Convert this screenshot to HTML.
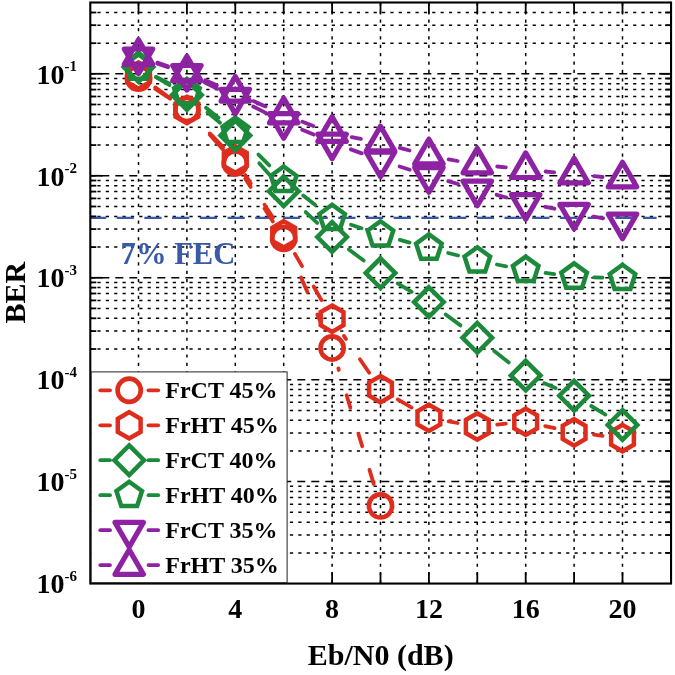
<!DOCTYPE html>
<html><head><meta charset="utf-8"><title>BER vs Eb/N0</title>
<style>html,body{margin:0;padding:0;background:#fff}svg{display:block}text{font-family:"Liberation Serif","Times New Roman",serif;font-weight:bold}</style></head><body>
<svg width="675" height="675" viewBox="0 0 675 675">
<rect width="675" height="675" fill="#fff"/>
<g stroke="#000" fill="none" stroke-width="1.5">
<line x1="138.5" y1="2.5" x2="138.5" y2="583.55" stroke-dasharray="3.2 5.17" stroke-dashoffset="8.0"/>
<line x1="186.9" y1="2.5" x2="186.9" y2="583.55" stroke-dasharray="3.2 5.17" stroke-dashoffset="8.0"/>
<line x1="235.3" y1="2.5" x2="235.3" y2="583.55" stroke-dasharray="3.2 5.17" stroke-dashoffset="8.0"/>
<line x1="283.7" y1="2.5" x2="283.7" y2="583.55" stroke-dasharray="3.2 5.17" stroke-dashoffset="8.0"/>
<line x1="332.1" y1="2.5" x2="332.1" y2="583.55" stroke-dasharray="3.2 5.17" stroke-dashoffset="8.0"/>
<line x1="380.5" y1="2.5" x2="380.5" y2="583.55" stroke-dasharray="3.2 5.17" stroke-dashoffset="8.0"/>
<line x1="428.9" y1="2.5" x2="428.9" y2="583.55" stroke-dasharray="3.2 5.17" stroke-dashoffset="8.0"/>
<line x1="477.3" y1="2.5" x2="477.3" y2="583.55" stroke-dasharray="3.2 5.17" stroke-dashoffset="8.0"/>
<line x1="525.7" y1="2.5" x2="525.7" y2="583.55" stroke-dasharray="3.2 5.17" stroke-dashoffset="8.0"/>
<line x1="574.1" y1="2.5" x2="574.1" y2="583.55" stroke-dasharray="3.2 5.17" stroke-dashoffset="8.0"/>
<line x1="622.5" y1="2.5" x2="622.5" y2="583.55" stroke-dasharray="3.2 5.17" stroke-dashoffset="8.0"/>
<line x1="90.3" y1="552.9" x2="671.05" y2="552.9" stroke-dasharray="3.2 5.17" stroke-dashoffset="1.25"/>
<line x1="90.3" y1="535.0" x2="671.05" y2="535.0" stroke-dasharray="3.2 5.17" stroke-dashoffset="1.25"/>
<line x1="90.3" y1="522.2" x2="671.05" y2="522.2" stroke-dasharray="3.2 5.17" stroke-dashoffset="1.25"/>
<line x1="90.3" y1="512.3" x2="671.05" y2="512.3" stroke-dasharray="3.2 5.17" stroke-dashoffset="1.25"/>
<line x1="90.3" y1="504.3" x2="671.05" y2="504.3" stroke-dasharray="3.2 5.17" stroke-dashoffset="1.25"/>
<line x1="90.3" y1="497.4" x2="671.05" y2="497.4" stroke-dasharray="3.2 5.17" stroke-dashoffset="1.25"/>
<line x1="90.3" y1="491.5" x2="671.05" y2="491.5" stroke-dasharray="3.2 5.17" stroke-dashoffset="1.25"/>
<line x1="90.3" y1="486.3" x2="671.05" y2="486.3" stroke-dasharray="3.2 5.17" stroke-dashoffset="1.25"/>
<line x1="90.3" y1="481.6" x2="671.05" y2="481.6" stroke-dasharray="8 6" stroke-dashoffset="3"/>
<line x1="90.3" y1="451.0" x2="671.05" y2="451.0" stroke-dasharray="3.2 5.17" stroke-dashoffset="1.25"/>
<line x1="90.3" y1="433.0" x2="671.05" y2="433.0" stroke-dasharray="3.2 5.17" stroke-dashoffset="1.25"/>
<line x1="90.3" y1="420.3" x2="671.05" y2="420.3" stroke-dasharray="3.2 5.17" stroke-dashoffset="1.25"/>
<line x1="90.3" y1="410.4" x2="671.05" y2="410.4" stroke-dasharray="3.2 5.17" stroke-dashoffset="1.25"/>
<line x1="90.3" y1="402.3" x2="671.05" y2="402.3" stroke-dasharray="3.2 5.17" stroke-dashoffset="1.25"/>
<line x1="90.3" y1="395.5" x2="671.05" y2="395.5" stroke-dasharray="3.2 5.17" stroke-dashoffset="1.25"/>
<line x1="90.3" y1="389.6" x2="671.05" y2="389.6" stroke-dasharray="3.2 5.17" stroke-dashoffset="1.25"/>
<line x1="90.3" y1="384.4" x2="671.05" y2="384.4" stroke-dasharray="3.2 5.17" stroke-dashoffset="1.25"/>
<line x1="90.3" y1="379.7" x2="671.05" y2="379.7" stroke-dasharray="8 6" stroke-dashoffset="3"/>
<line x1="90.3" y1="349.0" x2="671.05" y2="349.0" stroke-dasharray="3.2 5.17" stroke-dashoffset="1.25"/>
<line x1="90.3" y1="331.1" x2="671.05" y2="331.1" stroke-dasharray="3.2 5.17" stroke-dashoffset="1.25"/>
<line x1="90.3" y1="318.3" x2="671.05" y2="318.3" stroke-dasharray="3.2 5.17" stroke-dashoffset="1.25"/>
<line x1="90.3" y1="308.4" x2="671.05" y2="308.4" stroke-dasharray="3.2 5.17" stroke-dashoffset="1.25"/>
<line x1="90.3" y1="300.4" x2="671.05" y2="300.4" stroke-dasharray="3.2 5.17" stroke-dashoffset="1.25"/>
<line x1="90.3" y1="293.5" x2="671.05" y2="293.5" stroke-dasharray="3.2 5.17" stroke-dashoffset="1.25"/>
<line x1="90.3" y1="287.6" x2="671.05" y2="287.6" stroke-dasharray="3.2 5.17" stroke-dashoffset="1.25"/>
<line x1="90.3" y1="282.4" x2="671.05" y2="282.4" stroke-dasharray="3.2 5.17" stroke-dashoffset="1.25"/>
<line x1="90.3" y1="277.8" x2="671.05" y2="277.8" stroke-dasharray="8 6" stroke-dashoffset="3"/>
<line x1="90.3" y1="247.1" x2="671.05" y2="247.1" stroke-dasharray="3.2 5.17" stroke-dashoffset="1.25"/>
<line x1="90.3" y1="229.1" x2="671.05" y2="229.1" stroke-dasharray="3.2 5.17" stroke-dashoffset="1.25"/>
<line x1="90.3" y1="216.4" x2="671.05" y2="216.4" stroke-dasharray="3.2 5.17" stroke-dashoffset="1.25"/>
<line x1="90.3" y1="206.5" x2="671.05" y2="206.5" stroke-dasharray="3.2 5.17" stroke-dashoffset="1.25"/>
<line x1="90.3" y1="198.4" x2="671.05" y2="198.4" stroke-dasharray="3.2 5.17" stroke-dashoffset="1.25"/>
<line x1="90.3" y1="191.6" x2="671.05" y2="191.6" stroke-dasharray="3.2 5.17" stroke-dashoffset="1.25"/>
<line x1="90.3" y1="185.7" x2="671.05" y2="185.7" stroke-dasharray="3.2 5.17" stroke-dashoffset="1.25"/>
<line x1="90.3" y1="180.5" x2="671.05" y2="180.5" stroke-dasharray="3.2 5.17" stroke-dashoffset="1.25"/>
<line x1="90.3" y1="175.8" x2="671.05" y2="175.8" stroke-dasharray="8 6" stroke-dashoffset="3"/>
<line x1="90.3" y1="145.1" x2="671.05" y2="145.1" stroke-dasharray="3.2 5.17" stroke-dashoffset="1.25"/>
<line x1="90.3" y1="127.2" x2="671.05" y2="127.2" stroke-dasharray="3.2 5.17" stroke-dashoffset="1.25"/>
<line x1="90.3" y1="114.4" x2="671.05" y2="114.4" stroke-dasharray="3.2 5.17" stroke-dashoffset="1.25"/>
<line x1="90.3" y1="104.5" x2="671.05" y2="104.5" stroke-dasharray="3.2 5.17" stroke-dashoffset="1.25"/>
<line x1="90.3" y1="96.5" x2="671.05" y2="96.5" stroke-dasharray="3.2 5.17" stroke-dashoffset="1.25"/>
<line x1="90.3" y1="89.6" x2="671.05" y2="89.6" stroke-dasharray="3.2 5.17" stroke-dashoffset="1.25"/>
<line x1="90.3" y1="83.7" x2="671.05" y2="83.7" stroke-dasharray="3.2 5.17" stroke-dashoffset="1.25"/>
<line x1="90.3" y1="78.5" x2="671.05" y2="78.5" stroke-dasharray="3.2 5.17" stroke-dashoffset="1.25"/>
<line x1="90.3" y1="73.8" x2="671.05" y2="73.8" stroke-dasharray="8 6" stroke-dashoffset="3"/>
<line x1="90.3" y1="43.2" x2="671.05" y2="43.2" stroke-dasharray="3.2 5.17" stroke-dashoffset="1.25"/>
<line x1="90.3" y1="25.2" x2="671.05" y2="25.2" stroke-dasharray="3.2 5.17" stroke-dashoffset="1.25"/>
<line x1="90.3" y1="12.5" x2="671.05" y2="12.5" stroke-dasharray="3.2 5.17" stroke-dashoffset="1.25"/>
</g>
<line x1="90.3" y1="217.9" x2="656.6" y2="217.9" stroke="#3a5aa9" stroke-width="2.4" stroke-dasharray="17.2 10.5" stroke-dashoffset="1.3"/>
<text x="120.6" y="263.7" font-size="30.6" fill="#3a5aa9">7% FEC</text>
<g stroke="#000" stroke-width="1.8">
<line x1="138.5" y1="2.5" x2="138.5" y2="13.5"/>
<line x1="138.5" y1="583.55" x2="138.5" y2="572.55"/>
<line x1="186.9" y1="2.5" x2="186.9" y2="13.5"/>
<line x1="186.9" y1="583.55" x2="186.9" y2="572.55"/>
<line x1="235.3" y1="2.5" x2="235.3" y2="13.5"/>
<line x1="235.3" y1="583.55" x2="235.3" y2="572.55"/>
<line x1="283.7" y1="2.5" x2="283.7" y2="13.5"/>
<line x1="283.7" y1="583.55" x2="283.7" y2="572.55"/>
<line x1="332.1" y1="2.5" x2="332.1" y2="13.5"/>
<line x1="332.1" y1="583.55" x2="332.1" y2="572.55"/>
<line x1="380.5" y1="2.5" x2="380.5" y2="13.5"/>
<line x1="380.5" y1="583.55" x2="380.5" y2="572.55"/>
<line x1="428.9" y1="2.5" x2="428.9" y2="13.5"/>
<line x1="428.9" y1="583.55" x2="428.9" y2="572.55"/>
<line x1="477.3" y1="2.5" x2="477.3" y2="13.5"/>
<line x1="477.3" y1="583.55" x2="477.3" y2="572.55"/>
<line x1="525.7" y1="2.5" x2="525.7" y2="13.5"/>
<line x1="525.7" y1="583.55" x2="525.7" y2="572.55"/>
<line x1="574.1" y1="2.5" x2="574.1" y2="13.5"/>
<line x1="574.1" y1="583.55" x2="574.1" y2="572.55"/>
<line x1="622.5" y1="2.5" x2="622.5" y2="13.5"/>
<line x1="622.5" y1="583.55" x2="622.5" y2="572.55"/>
<line x1="90.3" y1="552.9" x2="96.3" y2="552.9"/>
<line x1="671.05" y1="552.9" x2="665.05" y2="552.9"/>
<line x1="90.3" y1="535.0" x2="96.3" y2="535.0"/>
<line x1="671.05" y1="535.0" x2="665.05" y2="535.0"/>
<line x1="90.3" y1="522.2" x2="96.3" y2="522.2"/>
<line x1="671.05" y1="522.2" x2="665.05" y2="522.2"/>
<line x1="90.3" y1="512.3" x2="96.3" y2="512.3"/>
<line x1="671.05" y1="512.3" x2="665.05" y2="512.3"/>
<line x1="90.3" y1="504.3" x2="96.3" y2="504.3"/>
<line x1="671.05" y1="504.3" x2="665.05" y2="504.3"/>
<line x1="90.3" y1="497.4" x2="96.3" y2="497.4"/>
<line x1="671.05" y1="497.4" x2="665.05" y2="497.4"/>
<line x1="90.3" y1="491.5" x2="96.3" y2="491.5"/>
<line x1="671.05" y1="491.5" x2="665.05" y2="491.5"/>
<line x1="90.3" y1="486.3" x2="96.3" y2="486.3"/>
<line x1="671.05" y1="486.3" x2="665.05" y2="486.3"/>
<line x1="90.3" y1="481.6" x2="102.3" y2="481.6"/>
<line x1="671.05" y1="481.6" x2="659.05" y2="481.6"/>
<line x1="90.3" y1="451.0" x2="96.3" y2="451.0"/>
<line x1="671.05" y1="451.0" x2="665.05" y2="451.0"/>
<line x1="90.3" y1="433.0" x2="96.3" y2="433.0"/>
<line x1="671.05" y1="433.0" x2="665.05" y2="433.0"/>
<line x1="90.3" y1="420.3" x2="96.3" y2="420.3"/>
<line x1="671.05" y1="420.3" x2="665.05" y2="420.3"/>
<line x1="90.3" y1="410.4" x2="96.3" y2="410.4"/>
<line x1="671.05" y1="410.4" x2="665.05" y2="410.4"/>
<line x1="90.3" y1="402.3" x2="96.3" y2="402.3"/>
<line x1="671.05" y1="402.3" x2="665.05" y2="402.3"/>
<line x1="90.3" y1="395.5" x2="96.3" y2="395.5"/>
<line x1="671.05" y1="395.5" x2="665.05" y2="395.5"/>
<line x1="90.3" y1="389.6" x2="96.3" y2="389.6"/>
<line x1="671.05" y1="389.6" x2="665.05" y2="389.6"/>
<line x1="90.3" y1="384.4" x2="96.3" y2="384.4"/>
<line x1="671.05" y1="384.4" x2="665.05" y2="384.4"/>
<line x1="90.3" y1="379.7" x2="102.3" y2="379.7"/>
<line x1="671.05" y1="379.7" x2="659.05" y2="379.7"/>
<line x1="90.3" y1="349.0" x2="96.3" y2="349.0"/>
<line x1="671.05" y1="349.0" x2="665.05" y2="349.0"/>
<line x1="90.3" y1="331.1" x2="96.3" y2="331.1"/>
<line x1="671.05" y1="331.1" x2="665.05" y2="331.1"/>
<line x1="90.3" y1="318.3" x2="96.3" y2="318.3"/>
<line x1="671.05" y1="318.3" x2="665.05" y2="318.3"/>
<line x1="90.3" y1="308.4" x2="96.3" y2="308.4"/>
<line x1="671.05" y1="308.4" x2="665.05" y2="308.4"/>
<line x1="90.3" y1="300.4" x2="96.3" y2="300.4"/>
<line x1="671.05" y1="300.4" x2="665.05" y2="300.4"/>
<line x1="90.3" y1="293.5" x2="96.3" y2="293.5"/>
<line x1="671.05" y1="293.5" x2="665.05" y2="293.5"/>
<line x1="90.3" y1="287.6" x2="96.3" y2="287.6"/>
<line x1="671.05" y1="287.6" x2="665.05" y2="287.6"/>
<line x1="90.3" y1="282.4" x2="96.3" y2="282.4"/>
<line x1="671.05" y1="282.4" x2="665.05" y2="282.4"/>
<line x1="90.3" y1="277.8" x2="102.3" y2="277.8"/>
<line x1="671.05" y1="277.8" x2="659.05" y2="277.8"/>
<line x1="90.3" y1="247.1" x2="96.3" y2="247.1"/>
<line x1="671.05" y1="247.1" x2="665.05" y2="247.1"/>
<line x1="90.3" y1="229.1" x2="96.3" y2="229.1"/>
<line x1="671.05" y1="229.1" x2="665.05" y2="229.1"/>
<line x1="90.3" y1="216.4" x2="96.3" y2="216.4"/>
<line x1="671.05" y1="216.4" x2="665.05" y2="216.4"/>
<line x1="90.3" y1="206.5" x2="96.3" y2="206.5"/>
<line x1="671.05" y1="206.5" x2="665.05" y2="206.5"/>
<line x1="90.3" y1="198.4" x2="96.3" y2="198.4"/>
<line x1="671.05" y1="198.4" x2="665.05" y2="198.4"/>
<line x1="90.3" y1="191.6" x2="96.3" y2="191.6"/>
<line x1="671.05" y1="191.6" x2="665.05" y2="191.6"/>
<line x1="90.3" y1="185.7" x2="96.3" y2="185.7"/>
<line x1="671.05" y1="185.7" x2="665.05" y2="185.7"/>
<line x1="90.3" y1="180.5" x2="96.3" y2="180.5"/>
<line x1="671.05" y1="180.5" x2="665.05" y2="180.5"/>
<line x1="90.3" y1="175.8" x2="102.3" y2="175.8"/>
<line x1="671.05" y1="175.8" x2="659.05" y2="175.8"/>
<line x1="90.3" y1="145.1" x2="96.3" y2="145.1"/>
<line x1="671.05" y1="145.1" x2="665.05" y2="145.1"/>
<line x1="90.3" y1="127.2" x2="96.3" y2="127.2"/>
<line x1="671.05" y1="127.2" x2="665.05" y2="127.2"/>
<line x1="90.3" y1="114.4" x2="96.3" y2="114.4"/>
<line x1="671.05" y1="114.4" x2="665.05" y2="114.4"/>
<line x1="90.3" y1="104.5" x2="96.3" y2="104.5"/>
<line x1="671.05" y1="104.5" x2="665.05" y2="104.5"/>
<line x1="90.3" y1="96.5" x2="96.3" y2="96.5"/>
<line x1="671.05" y1="96.5" x2="665.05" y2="96.5"/>
<line x1="90.3" y1="89.6" x2="96.3" y2="89.6"/>
<line x1="671.05" y1="89.6" x2="665.05" y2="89.6"/>
<line x1="90.3" y1="83.7" x2="96.3" y2="83.7"/>
<line x1="671.05" y1="83.7" x2="665.05" y2="83.7"/>
<line x1="90.3" y1="78.5" x2="96.3" y2="78.5"/>
<line x1="671.05" y1="78.5" x2="665.05" y2="78.5"/>
<line x1="90.3" y1="73.8" x2="102.3" y2="73.8"/>
<line x1="671.05" y1="73.8" x2="659.05" y2="73.8"/>
<line x1="90.3" y1="43.2" x2="96.3" y2="43.2"/>
<line x1="671.05" y1="43.2" x2="665.05" y2="43.2"/>
<line x1="90.3" y1="25.2" x2="96.3" y2="25.2"/>
<line x1="671.05" y1="25.2" x2="665.05" y2="25.2"/>
<line x1="90.3" y1="12.5" x2="96.3" y2="12.5"/>
<line x1="671.05" y1="12.5" x2="665.05" y2="12.5"/>
</g>
<g stroke="#df2d1d" stroke-width="3.8" stroke-linecap="round" fill="none">
<line x1="155.3" y1="89.0" x2="170.1" y2="98.6"/>
<line x1="209.8" y1="134.8" x2="223.2" y2="149.7"/>
<line x1="245.3" y1="178.6" x2="250.7" y2="186.9"/>
<line x1="264.5" y1="208.5" x2="272.9" y2="221.5"/>
<line x1="301.0" y1="277.5" x2="307.4" y2="292.1"/>
<line x1="317.3" y1="314.4" x2="320.2" y2="321.1"/>
<line x1="338.4" y1="368.4" x2="338.8" y2="370.0"/>
<line x1="346.6" y1="395.2" x2="350.4" y2="407.8"/>
<line x1="358.4" y1="433.7" x2="362.2" y2="446.3"/>
<line x1="369.5" y1="469.9" x2="373.7" y2="483.9"/>
</g>
<circle cx="138.5" cy="78.1" r="11.6" fill="none" stroke="#df2d1d" stroke-width="4.65"/>
<circle cx="186.9" cy="109.5" r="11.6" fill="none" stroke="#df2d1d" stroke-width="4.65"/>
<circle cx="235.3" cy="163.0" r="11.6" fill="none" stroke="#df2d1d" stroke-width="4.65"/>
<circle cx="283.7" cy="238.4" r="11.6" fill="none" stroke="#df2d1d" stroke-width="4.65"/>
<circle cx="332.1" cy="348.0" r="11.6" fill="none" stroke="#df2d1d" stroke-width="4.65"/>
<circle cx="380.5" cy="505.9" r="11.6" fill="none" stroke="#df2d1d" stroke-width="4.65"/>
<g stroke="#df2d1d" stroke-width="3.8" stroke-linecap="round" fill="none">
<line x1="155.2" y1="87.4" x2="170.2" y2="98.2"/>
<line x1="209.8" y1="133.4" x2="223.2" y2="147.1"/>
<line x1="245.3" y1="175.0" x2="250.7" y2="183.3"/>
<line x1="264.5" y1="204.7" x2="272.9" y2="217.6"/>
<line x1="294.9" y1="253.9" x2="302.0" y2="266.1"/>
<line x1="313.6" y1="286.5" x2="321.5" y2="300.1"/>
<line x1="343.9" y1="335.9" x2="346.0" y2="339.0"/>
<line x1="359.9" y1="359.2" x2="369.2" y2="372.8"/>
<line x1="397.7" y1="399.4" x2="411.7" y2="407.6"/>
<line x1="448.6" y1="421.3" x2="457.6" y2="423.0"/>
<line x1="497.2" y1="424.6" x2="505.8" y2="423.7"/>
<line x1="545.2" y1="426.1" x2="554.6" y2="428.1"/>
<line x1="594.0" y1="434.7" x2="602.6" y2="435.8"/>
</g>
<polygon points="138.5,62.4 149.9,69.0 149.9,82.2 138.5,88.8 127.1,82.2 127.1,69.0" fill="none" stroke="#df2d1d" stroke-width="4.5" stroke-linejoin="miter"/>
<polygon points="186.9,96.8 198.3,103.4 198.3,116.6 186.9,123.2 175.5,116.6 175.5,103.4" fill="none" stroke="#df2d1d" stroke-width="4.5" stroke-linejoin="miter"/>
<polygon points="235.3,146.3 246.7,152.9 246.7,166.1 235.3,172.7 223.9,166.1 223.9,152.9" fill="none" stroke="#df2d1d" stroke-width="4.5" stroke-linejoin="miter"/>
<polygon points="283.7,221.1 295.1,227.7 295.1,240.9 283.7,247.5 272.3,240.9 272.3,227.7" fill="none" stroke="#df2d1d" stroke-width="4.5" stroke-linejoin="miter"/>
<polygon points="332.1,305.5 343.5,312.1 343.5,325.3 332.1,331.9 320.7,325.3 320.7,312.1" fill="none" stroke="#df2d1d" stroke-width="4.5" stroke-linejoin="miter"/>
<polygon points="380.5,376.0 391.9,382.6 391.9,395.8 380.5,402.4 369.1,395.8 369.1,382.6" fill="none" stroke="#df2d1d" stroke-width="4.5" stroke-linejoin="miter"/>
<polygon points="428.9,404.6 440.3,411.2 440.3,424.4 428.9,431.0 417.5,424.4 417.5,411.2" fill="none" stroke="#df2d1d" stroke-width="4.5" stroke-linejoin="miter"/>
<polygon points="477.3,413.3 488.7,419.9 488.7,433.1 477.3,439.7 465.9,433.1 465.9,419.9" fill="none" stroke="#df2d1d" stroke-width="4.5" stroke-linejoin="miter"/>
<polygon points="525.7,408.6 537.1,415.2 537.1,428.4 525.7,435.0 514.3,428.4 514.3,415.2" fill="none" stroke="#df2d1d" stroke-width="4.5" stroke-linejoin="miter"/>
<polygon points="574.1,419.2 585.5,425.8 585.5,439.0 574.1,445.6 562.7,439.0 562.7,425.8" fill="none" stroke="#df2d1d" stroke-width="4.5" stroke-linejoin="miter"/>
<polygon points="622.5,424.9 633.9,431.5 633.9,444.7 622.5,451.3 611.1,444.7 611.1,431.5" fill="none" stroke="#df2d1d" stroke-width="4.5" stroke-linejoin="miter"/>
<g stroke="#1c8a3b" stroke-width="3.8" stroke-linecap="round" fill="none">
<line x1="155.8" y1="77.1" x2="169.6" y2="85.1"/>
<line x1="207.5" y1="112.3" x2="220.0" y2="122.8"/>
<line x1="259.3" y1="163.2" x2="269.3" y2="174.6"/>
<line x1="305.7" y1="212.1" x2="317.2" y2="222.9"/>
<line x1="348.9" y1="249.5" x2="363.7" y2="260.6"/>
<line x1="397.7" y1="283.4" x2="411.7" y2="291.8"/>
<line x1="445.7" y1="314.5" x2="460.5" y2="325.4"/>
<line x1="494.2" y1="351.0" x2="508.8" y2="362.4"/>
<line x1="544.2" y1="383.3" x2="555.6" y2="388.0"/>
<line x1="591.2" y1="406.0" x2="605.4" y2="414.6"/>
</g>
<polygon points="138.5,52.3 153.3,67.1 138.5,81.9 123.7,67.1" fill="none" stroke="#1c8a3b" stroke-width="4.5" stroke-linejoin="miter"/>
<polygon points="186.9,80.3 201.7,95.1 186.9,109.9 172.1,95.1" fill="none" stroke="#1c8a3b" stroke-width="4.5" stroke-linejoin="miter"/>
<polygon points="235.3,120.7 250.1,135.5 235.3,150.3 220.5,135.5" fill="none" stroke="#1c8a3b" stroke-width="4.5" stroke-linejoin="miter"/>
<polygon points="283.7,176.5 298.5,191.3 283.7,206.1 268.9,191.3" fill="none" stroke="#1c8a3b" stroke-width="4.5" stroke-linejoin="miter"/>
<polygon points="332.1,222.2 346.9,237.0 332.1,251.8 317.3,237.0" fill="none" stroke="#1c8a3b" stroke-width="4.5" stroke-linejoin="miter"/>
<polygon points="380.5,258.3 395.3,273.1 380.5,287.9 365.7,273.1" fill="none" stroke="#1c8a3b" stroke-width="4.5" stroke-linejoin="miter"/>
<polygon points="428.9,287.3 443.7,302.1 428.9,316.9 414.1,302.1" fill="none" stroke="#1c8a3b" stroke-width="4.5" stroke-linejoin="miter"/>
<polygon points="477.3,323.0 492.1,337.8 477.3,352.6 462.5,337.8" fill="none" stroke="#1c8a3b" stroke-width="4.5" stroke-linejoin="miter"/>
<polygon points="525.7,360.8 540.5,375.6 525.7,390.4 510.9,375.6" fill="none" stroke="#1c8a3b" stroke-width="4.5" stroke-linejoin="miter"/>
<polygon points="574.1,380.9 588.9,395.7 574.1,410.5 559.3,395.7" fill="none" stroke="#1c8a3b" stroke-width="4.5" stroke-linejoin="miter"/>
<polygon points="622.5,410.1 637.3,424.9 622.5,439.7 607.7,424.9" fill="none" stroke="#1c8a3b" stroke-width="4.5" stroke-linejoin="miter"/>
<g stroke="#1c8a3b" stroke-width="3.8" stroke-linecap="round" fill="none">
<line x1="156.3" y1="76.9" x2="169.1" y2="83.4"/>
<line x1="206.0" y1="107.7" x2="218.5" y2="117.7"/>
<line x1="258.5" y1="154.6" x2="269.3" y2="165.4"/>
<line x1="303.2" y1="195.4" x2="315.3" y2="204.9"/>
<line x1="351.0" y1="224.7" x2="361.6" y2="228.2"/>
<line x1="399.8" y1="239.9" x2="409.6" y2="242.6"/>
<line x1="448.2" y1="253.0" x2="458.0" y2="255.5"/>
<line x1="496.9" y1="264.5" x2="506.1" y2="266.3"/>
<line x1="545.5" y1="272.9" x2="554.3" y2="274.1"/>
<line x1="594.1" y1="277.4" x2="602.5" y2="277.7"/>
</g>
<polygon points="138.5,54.4 151.3,63.7 146.4,78.8 130.6,78.8 125.7,63.7" fill="none" stroke="#1c8a3b" stroke-width="4.5" stroke-linejoin="miter"/>
<polygon points="186.9,78.9 199.7,88.2 194.8,103.3 179.0,103.3 174.1,88.2" fill="none" stroke="#1c8a3b" stroke-width="4.5" stroke-linejoin="miter"/>
<polygon points="235.3,117.6 248.1,126.9 243.2,142.0 227.4,142.0 222.5,126.9" fill="none" stroke="#1c8a3b" stroke-width="4.5" stroke-linejoin="miter"/>
<polygon points="283.7,166.5 296.5,175.8 291.6,190.9 275.8,190.9 270.9,175.8" fill="none" stroke="#1c8a3b" stroke-width="4.5" stroke-linejoin="miter"/>
<polygon points="332.1,204.7 344.9,214.0 340.0,229.1 324.2,229.1 319.3,214.0" fill="none" stroke="#1c8a3b" stroke-width="4.5" stroke-linejoin="miter"/>
<polygon points="380.5,221.2 393.3,230.5 388.4,245.6 372.6,245.6 367.7,230.5" fill="none" stroke="#1c8a3b" stroke-width="4.5" stroke-linejoin="miter"/>
<polygon points="428.9,234.3 441.7,243.6 436.8,258.7 421.0,258.7 416.1,243.6" fill="none" stroke="#1c8a3b" stroke-width="4.5" stroke-linejoin="miter"/>
<polygon points="477.3,247.2 490.1,256.5 485.2,271.6 469.4,271.6 464.5,256.5" fill="none" stroke="#1c8a3b" stroke-width="4.5" stroke-linejoin="miter"/>
<polygon points="525.7,256.6 538.5,265.9 533.6,281.0 517.8,281.0 512.9,265.9" fill="none" stroke="#1c8a3b" stroke-width="4.5" stroke-linejoin="miter"/>
<polygon points="574.1,263.4 586.9,272.7 582.0,287.8 566.2,287.8 561.3,272.7" fill="none" stroke="#1c8a3b" stroke-width="4.5" stroke-linejoin="miter"/>
<polygon points="622.5,264.7 635.3,274.0 630.4,289.1 614.6,289.1 609.7,274.0" fill="none" stroke="#1c8a3b" stroke-width="4.5" stroke-linejoin="miter"/>
<g stroke="#8d22a3" stroke-width="3.8" stroke-linecap="round" fill="none">
<line x1="157.4" y1="63.7" x2="168.0" y2="67.2"/>
<line x1="204.8" y1="82.5" x2="217.4" y2="88.7"/>
<line x1="253.2" y1="106.5" x2="265.8" y2="112.9"/>
<line x1="302.1" y1="129.7" x2="313.7" y2="134.6"/>
<line x1="350.8" y1="149.4" x2="361.8" y2="153.4"/>
<line x1="399.6" y1="166.5" x2="409.8" y2="169.7"/>
<line x1="448.2" y1="181.2" x2="458.0" y2="184.0"/>
<line x1="496.6" y1="194.8" x2="506.4" y2="197.5"/>
<line x1="545.3" y1="206.8" x2="554.5" y2="208.7"/>
<line x1="593.7" y1="216.5" x2="602.9" y2="218.4"/>
</g>
<polygon points="138.5,73.6 152.7,49.0 124.3,49.0" fill="none" stroke="#8d22a3" stroke-width="5.2" stroke-linejoin="round"/>
<polygon points="186.9,90.1 201.1,65.5 172.7,65.5" fill="none" stroke="#8d22a3" stroke-width="5.2" stroke-linejoin="round"/>
<polygon points="235.3,113.9 249.5,89.3 221.1,89.3" fill="none" stroke="#8d22a3" stroke-width="5.2" stroke-linejoin="round"/>
<polygon points="283.7,138.3 297.9,113.7 269.5,113.7" fill="none" stroke="#8d22a3" stroke-width="5.2" stroke-linejoin="round"/>
<polygon points="332.1,158.8 346.3,134.2 317.9,134.2" fill="none" stroke="#8d22a3" stroke-width="5.2" stroke-linejoin="round"/>
<polygon points="380.5,176.8 394.7,152.2 366.3,152.2" fill="none" stroke="#8d22a3" stroke-width="5.2" stroke-linejoin="round"/>
<polygon points="428.9,192.2 443.1,167.6 414.7,167.6" fill="none" stroke="#8d22a3" stroke-width="5.2" stroke-linejoin="round"/>
<polygon points="477.3,205.8 491.5,181.2 463.1,181.2" fill="none" stroke="#8d22a3" stroke-width="5.2" stroke-linejoin="round"/>
<polygon points="525.7,219.3 539.9,194.7 511.5,194.7" fill="none" stroke="#8d22a3" stroke-width="5.2" stroke-linejoin="round"/>
<polygon points="574.1,229.0 588.3,204.4 559.9,204.4" fill="none" stroke="#8d22a3" stroke-width="5.2" stroke-linejoin="round"/>
<polygon points="622.5,238.7 636.7,214.1 608.3,214.1" fill="none" stroke="#8d22a3" stroke-width="5.2" stroke-linejoin="round"/>
<g stroke="#8d22a3" stroke-width="3.8" stroke-linecap="round" fill="none">
<line x1="157.4" y1="62.6" x2="168.0" y2="66.2"/>
<line x1="205.3" y1="80.3" x2="216.9" y2="85.2"/>
<line x1="253.5" y1="101.1" x2="265.5" y2="106.4"/>
<line x1="302.4" y1="121.8" x2="313.4" y2="126.0"/>
<line x1="351.7" y1="137.1" x2="360.9" y2="138.8"/>
<line x1="399.8" y1="147.9" x2="409.6" y2="150.5"/>
<line x1="448.6" y1="159.3" x2="457.6" y2="161.0"/>
<line x1="497.2" y1="166.5" x2="505.8" y2="167.4"/>
<line x1="545.6" y1="171.5" x2="554.2" y2="172.4"/>
<line x1="594.0" y1="176.2" x2="602.6" y2="177.0"/>
</g>
<polygon points="138.5,39.8 152.7,64.4 124.3,64.4" fill="none" stroke="#8d22a3" stroke-width="5.2" stroke-linejoin="round"/>
<polygon points="186.9,56.2 201.1,80.8 172.7,80.8" fill="none" stroke="#8d22a3" stroke-width="5.2" stroke-linejoin="round"/>
<polygon points="235.3,76.5 249.5,101.1 221.1,101.1" fill="none" stroke="#8d22a3" stroke-width="5.2" stroke-linejoin="round"/>
<polygon points="283.7,98.2 297.9,122.8 269.5,122.8" fill="none" stroke="#8d22a3" stroke-width="5.2" stroke-linejoin="round"/>
<polygon points="332.1,116.8 346.3,141.4 317.9,141.4" fill="none" stroke="#8d22a3" stroke-width="5.2" stroke-linejoin="round"/>
<polygon points="380.5,126.3 394.7,150.9 366.3,150.9" fill="none" stroke="#8d22a3" stroke-width="5.2" stroke-linejoin="round"/>
<polygon points="428.9,139.3 443.1,163.9 414.7,163.9" fill="none" stroke="#8d22a3" stroke-width="5.2" stroke-linejoin="round"/>
<polygon points="477.3,148.2 491.5,172.8 463.1,172.8" fill="none" stroke="#8d22a3" stroke-width="5.2" stroke-linejoin="round"/>
<polygon points="525.7,152.9 539.9,177.5 511.5,177.5" fill="none" stroke="#8d22a3" stroke-width="5.2" stroke-linejoin="round"/>
<polygon points="574.1,158.2 588.3,182.8 559.9,182.8" fill="none" stroke="#8d22a3" stroke-width="5.2" stroke-linejoin="round"/>
<polygon points="622.5,162.2 636.7,186.8 608.3,186.8" fill="none" stroke="#8d22a3" stroke-width="5.2" stroke-linejoin="round"/>
<rect x="90.3" y="2.5" width="580.75" height="581.05" fill="none" stroke="#000" stroke-width="2.1"/>
<rect x="91.2" y="371.9" width="195.90000000000003" height="210.74999999999997" fill="#fff" stroke="#222" stroke-width="1"/>
<g stroke="#df2d1d" stroke-width="3.8" stroke-linecap="round"><line x1="100.3" y1="390.3" x2="110" y2="390.3"/><line x1="148.5" y1="390.3" x2="158.2" y2="390.3"/></g>
<circle cx="129.2" cy="390.3" r="11.6" fill="none" stroke="#df2d1d" stroke-width="4.65"/>
<text x="165.3" y="398.3" font-size="24" fill="#000">FrCT 45%</text>
<g stroke="#df2d1d" stroke-width="3.8" stroke-linecap="round"><line x1="100.3" y1="425.3" x2="110" y2="425.3"/><line x1="148.5" y1="425.3" x2="158.2" y2="425.3"/></g>
<polygon points="129.2,412.1 140.6,418.7 140.6,431.9 129.2,438.5 117.8,431.9 117.8,418.7" fill="none" stroke="#df2d1d" stroke-width="4.5" stroke-linejoin="miter"/>
<text x="165.3" y="433.3" font-size="24" fill="#000">FrHT 45%</text>
<g stroke="#1c8a3b" stroke-width="3.8" stroke-linecap="round"><line x1="100.3" y1="460.2" x2="110" y2="460.2"/><line x1="148.5" y1="460.2" x2="158.2" y2="460.2"/></g>
<polygon points="129.2,445.4 144.0,460.2 129.2,475.0 114.4,460.2" fill="none" stroke="#1c8a3b" stroke-width="4.5" stroke-linejoin="miter"/>
<text x="165.3" y="468.2" font-size="24" fill="#000">FrCT 40%</text>
<g stroke="#1c8a3b" stroke-width="3.8" stroke-linecap="round"><line x1="100.3" y1="495.2" x2="110" y2="495.2"/><line x1="148.5" y1="495.2" x2="158.2" y2="495.2"/></g>
<polygon points="129.2,481.7 142.0,491.0 137.1,506.1 121.3,506.1 116.4,491.0" fill="none" stroke="#1c8a3b" stroke-width="4.5" stroke-linejoin="miter"/>
<text x="165.3" y="503.2" font-size="24" fill="#000">FrHT 40%</text>
<g stroke="#8d22a3" stroke-width="3.8" stroke-linecap="round"><line x1="100.3" y1="530.2" x2="110" y2="530.2"/><line x1="148.5" y1="530.2" x2="158.2" y2="530.2"/></g>
<polygon points="129.2,547.0 143.4,522.4 115.0,522.4" fill="none" stroke="#8d22a3" stroke-width="5.2" stroke-linejoin="round"/>
<text x="165.3" y="538.2" font-size="24" fill="#000">FrCT 35%</text>
<g stroke="#8d22a3" stroke-width="3.8" stroke-linecap="round"><line x1="100.3" y1="565.1" x2="110" y2="565.1"/><line x1="148.5" y1="565.1" x2="158.2" y2="565.1"/></g>
<polygon points="129.2,549.8 143.4,574.3 115.0,574.3" fill="none" stroke="#8d22a3" stroke-width="5.2" stroke-linejoin="round"/>
<text x="165.3" y="573.1" font-size="24" fill="#000">FrHT 35%</text>
<text x="138.5" y="617.6" font-size="28" text-anchor="middle" fill="#000">0</text>
<text x="235.3" y="617.6" font-size="28" text-anchor="middle" fill="#000">4</text>
<text x="332.1" y="617.6" font-size="28" text-anchor="middle" fill="#000">8</text>
<text x="428.9" y="617.6" font-size="28" text-anchor="middle" fill="#000">12</text>
<text x="525.7" y="617.6" font-size="28" text-anchor="middle" fill="#000">16</text>
<text x="622.5" y="617.6" font-size="28" text-anchor="middle" fill="#000">20</text>
<text x="64.6" y="593.3" font-size="28" text-anchor="end" fill="#000">10</text>
<text x="64.6" y="580.5" font-size="15" text-anchor="start" fill="#000">-6</text>
<text x="64.6" y="491.3" font-size="28" text-anchor="end" fill="#000">10</text>
<text x="64.6" y="478.5" font-size="15" text-anchor="start" fill="#000">-5</text>
<text x="64.6" y="389.4" font-size="28" text-anchor="end" fill="#000">10</text>
<text x="64.6" y="376.6" font-size="15" text-anchor="start" fill="#000">-4</text>
<text x="64.6" y="287.4" font-size="28" text-anchor="end" fill="#000">10</text>
<text x="64.6" y="274.6" font-size="15" text-anchor="start" fill="#000">-3</text>
<text x="64.6" y="185.5" font-size="28" text-anchor="end" fill="#000">10</text>
<text x="64.6" y="172.7" font-size="15" text-anchor="start" fill="#000">-2</text>
<text x="64.6" y="83.5" font-size="28" text-anchor="end" fill="#000">10</text>
<text x="64.6" y="70.8" font-size="15" text-anchor="start" fill="#000">-1</text>
<text x="380.7" y="665.4" font-size="30" text-anchor="middle" fill="#000">Eb/N0 (dB)</text>
<text transform="translate(24.9,292.7) rotate(-90)" font-size="30" text-anchor="middle" fill="#000">BER</text>
</svg></body></html>
